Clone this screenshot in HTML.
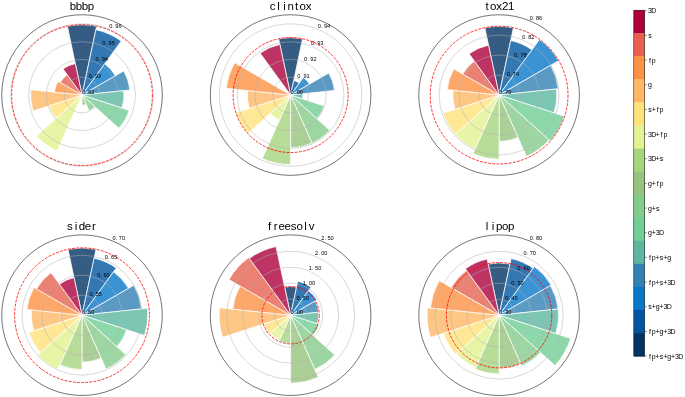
<!DOCTYPE html>
<html><head><meta charset="utf-8"><title>polar bars</title>
<style>html,body{margin:0;padding:0;background:#fff;}svg{display:block;}</style>
</head><body>
<svg width="685" height="397" viewBox="0 0 685 397">
<rect width="685" height="397" fill="#fff"/>
<g>
<path d="M82.00,95.05 L67.38,26.29 A70.3,70.3 0 0 1 96.62,26.29 Z" fill="#033464" fill-opacity="0.8" stroke="#fff" stroke-opacity="0.85" stroke-width="0.9" stroke-linejoin="miter"/>
<path d="M82.00,95.05 L95.89,29.71 A66.8,66.8 0 0 1 121.26,41.01 Z" fill="#0055a0" fill-opacity="0.8" stroke="#fff" stroke-opacity="0.85" stroke-width="0.9" stroke-linejoin="miter"/>
<path d="M82.00,95.05 L104.69,63.82 A38.6,38.6 0 0 1 115.43,75.75 Z" fill="#0a78c8" fill-opacity="0.8" stroke="#fff" stroke-opacity="0.85" stroke-width="0.9" stroke-linejoin="miter"/>
<path d="M82.00,95.05 L123.74,70.95 A48.2,48.2 0 0 1 129.94,90.01 Z" fill="#3282b4" fill-opacity="0.8" stroke="#fff" stroke-opacity="0.85" stroke-width="0.9" stroke-linejoin="miter"/>
<path d="M82.00,95.05 L123.77,90.66 A42,42 0 0 1 121.94,108.03 Z" fill="#5cb6a0" fill-opacity="0.8" stroke="#fff" stroke-opacity="0.85" stroke-width="0.9" stroke-linejoin="miter"/>
<path d="M82.00,95.05 L129.27,110.41 A49.7,49.7 0 0 1 118.93,128.31 Z" fill="#70cd96" fill-opacity="0.8" stroke="#fff" stroke-opacity="0.85" stroke-width="0.9" stroke-linejoin="miter"/>
<path d="M82.00,95.05 L94.86,106.63 A17.3,17.3 0 0 1 89.04,110.85 Z" fill="#84cc8c" fill-opacity="0.8" stroke="#fff" stroke-opacity="0.85" stroke-width="0.9" stroke-linejoin="miter"/>
<path d="M82.00,95.05 L86.19,104.46 A10.3,10.3 0 0 1 82.00,105.35 Z" fill="#96c37d" fill-opacity="0.8" stroke="#fff" stroke-opacity="0.85" stroke-width="0.9" stroke-linejoin="miter"/>
<path d="M82.00,95.05 L57.07,151.05 A61.3,61.3 0 0 1 36.45,136.07 Z" fill="#e2f391" fill-opacity="0.8" stroke="#fff" stroke-opacity="0.85" stroke-width="0.9" stroke-linejoin="miter"/>
<path d="M82.00,95.05 L56.14,118.34 A34.8,34.8 0 0 1 48.90,105.80 Z" fill="#fee27c" fill-opacity="0.8" stroke="#fff" stroke-opacity="0.85" stroke-width="0.9" stroke-linejoin="miter"/>
<path d="M82.00,95.05 L33.12,110.93 A51.4,51.4 0 0 1 30.88,89.68 Z" fill="#feb866" fill-opacity="0.8" stroke="#fff" stroke-opacity="0.85" stroke-width="0.9" stroke-linejoin="miter"/>
<path d="M82.00,95.05 L54.45,92.15 A27.7,27.7 0 0 1 58.01,81.20 Z" fill="#fd9144" fill-opacity="0.8" stroke="#fff" stroke-opacity="0.85" stroke-width="0.9" stroke-linejoin="miter"/>
<path d="M82.00,95.05 L60.18,82.45 A25.2,25.2 0 0 1 67.19,74.66 Z" fill="#e66150" fill-opacity="0.8" stroke="#fff" stroke-opacity="0.85" stroke-width="0.9" stroke-linejoin="miter"/>
<path d="M82.00,95.05 L63.07,69.00 A32.2,32.2 0 0 1 75.31,63.55 Z" fill="#ac003c" fill-opacity="0.8" stroke="#fff" stroke-opacity="0.85" stroke-width="0.9" stroke-linejoin="miter"/>
<circle cx="82.0" cy="95.05" r="17.8" fill="none" stroke="#b0b0b0" stroke-width="0.5"/>
<circle cx="82.0" cy="95.05" r="35.6" fill="none" stroke="#b0b0b0" stroke-width="0.5"/>
<circle cx="82.0" cy="95.05" r="53.4" fill="none" stroke="#b0b0b0" stroke-width="0.5"/>
<circle cx="82.0" cy="95.05" r="71.2" fill="none" stroke="#b0b0b0" stroke-width="0.5"/>
<circle cx="82.0" cy="95.05" r="70.4" fill="none" stroke="#ff0000" stroke-width="0.8" stroke-dasharray="2.9 1.25"/>
<circle cx="82.0" cy="95.05" r="80.3" fill="none" stroke="#000" stroke-width="0.55"/>
<text x="83.45 85.87 89.65 92.75" y="94.25" text-anchor="middle" font-family="&quot;Liberation Sans&quot;, Arial, sans-serif" font-size="5.6" fill="#000">0.92</text>
<text x="90.26 92.68 96.46 99.56" y="77.80" text-anchor="middle" font-family="&quot;Liberation Sans&quot;, Arial, sans-serif" font-size="5.6" fill="#000">0.93</text>
<text x="97.07 99.49 103.27 106.37" y="61.36" text-anchor="middle" font-family="&quot;Liberation Sans&quot;, Arial, sans-serif" font-size="5.6" fill="#000">0.94</text>
<text x="103.89 106.30 110.09 113.19" y="44.91" text-anchor="middle" font-family="&quot;Liberation Sans&quot;, Arial, sans-serif" font-size="5.6" fill="#000">0.95</text>
<text x="110.70 113.12 116.90 120.00" y="28.47" text-anchor="middle" font-family="&quot;Liberation Sans&quot;, Arial, sans-serif" font-size="5.6" fill="#000">0.96</text>
<text x="65.18 70.54 75.89 81.25" y="9.75" text-anchor="middle" font-family="&quot;Liberation Sans&quot;, Arial, sans-serif" font-size="10.3" fill="#000" transform="scale(1.12,1)">bbbp</text>
</g>
<g>
<path d="M290.60,95.05 L278.65,38.81 A57.5,57.5 0 0 1 302.55,38.81 Z" fill="#033464" fill-opacity="0.8" stroke="#fff" stroke-opacity="0.85" stroke-width="0.9" stroke-linejoin="miter"/>
<path d="M290.60,95.05 L293.68,80.57 A14.8,14.8 0 0 1 299.30,83.08 Z" fill="#0055a0" fill-opacity="0.8" stroke="#fff" stroke-opacity="0.85" stroke-width="0.9" stroke-linejoin="miter"/>
<path d="M290.60,95.05 L303.41,77.41 A21.8,21.8 0 0 1 309.48,84.15 Z" fill="#0a78c8" fill-opacity="0.8" stroke="#fff" stroke-opacity="0.85" stroke-width="0.9" stroke-linejoin="miter"/>
<path d="M290.60,95.05 L328.79,73.00 A44.1,44.1 0 0 1 334.46,90.44 Z" fill="#3282b4" fill-opacity="0.8" stroke="#fff" stroke-opacity="0.85" stroke-width="0.9" stroke-linejoin="miter"/>
<path d="M290.60,95.05 L302.83,93.76 A12.3,12.3 0 0 1 302.30,98.85 Z" fill="#5cb6a0" fill-opacity="0.8" stroke="#fff" stroke-opacity="0.85" stroke-width="0.9" stroke-linejoin="miter"/>
<path d="M290.60,95.05 L324.27,105.99 A35.4,35.4 0 0 1 316.91,118.74 Z" fill="#70cd96" fill-opacity="0.8" stroke="#fff" stroke-opacity="0.85" stroke-width="0.9" stroke-linejoin="miter"/>
<path d="M290.60,95.05 L329.84,130.38 A52.8,52.8 0 0 1 312.08,143.29 Z" fill="#84cc8c" fill-opacity="0.8" stroke="#fff" stroke-opacity="0.85" stroke-width="0.9" stroke-linejoin="miter"/>
<path d="M290.60,95.05 L312.04,143.19 A52.7,52.7 0 0 1 290.60,147.75 Z" fill="#96c37d" fill-opacity="0.8" stroke="#fff" stroke-opacity="0.85" stroke-width="0.9" stroke-linejoin="miter"/>
<path d="M290.60,95.05 L290.60,164.65 A69.6,69.6 0 0 1 262.29,158.63 Z" fill="#a6d57e" fill-opacity="0.8" stroke="#fff" stroke-opacity="0.85" stroke-width="0.9" stroke-linejoin="miter"/>
<path d="M290.60,95.05 L279.41,120.17 A27.5,27.5 0 0 1 270.16,113.45 Z" fill="#e2f391" fill-opacity="0.8" stroke="#fff" stroke-opacity="0.85" stroke-width="0.9" stroke-linejoin="miter"/>
<path d="M290.60,95.05 L247.87,133.53 A57.5,57.5 0 0 1 235.91,112.82 Z" fill="#fee27c" fill-opacity="0.8" stroke="#fff" stroke-opacity="0.85" stroke-width="0.9" stroke-linejoin="miter"/>
<path d="M290.60,95.05 L249.42,108.43 A43.3,43.3 0 0 1 247.54,90.52 Z" fill="#feb866" fill-opacity="0.8" stroke="#fff" stroke-opacity="0.85" stroke-width="0.9" stroke-linejoin="miter"/>
<path d="M290.60,95.05 L226.25,88.29 A64.7,64.7 0 0 1 234.57,62.70 Z" fill="#fd9144" fill-opacity="0.8" stroke="#fff" stroke-opacity="0.85" stroke-width="0.9" stroke-linejoin="miter"/>
<path d="M290.60,95.05 L260.15,53.14 A51.8,51.8 0 0 1 279.83,44.38 Z" fill="#ac003c" fill-opacity="0.8" stroke="#fff" stroke-opacity="0.85" stroke-width="0.9" stroke-linejoin="miter"/>
<circle cx="290.6" cy="95.05" r="17.8" fill="none" stroke="#b0b0b0" stroke-width="0.5"/>
<circle cx="290.6" cy="95.05" r="35.6" fill="none" stroke="#b0b0b0" stroke-width="0.5"/>
<circle cx="290.6" cy="95.05" r="53.4" fill="none" stroke="#b0b0b0" stroke-width="0.5"/>
<circle cx="290.6" cy="95.05" r="71.2" fill="none" stroke="#b0b0b0" stroke-width="0.5"/>
<circle cx="290.6" cy="95.05" r="57.5" fill="none" stroke="#ff0000" stroke-width="0.8" stroke-dasharray="2.9 1.25"/>
<circle cx="290.6" cy="95.05" r="80.3" fill="none" stroke="#000" stroke-width="0.55"/>
<text x="292.05 294.47 298.25 301.35" y="94.25" text-anchor="middle" font-family="&quot;Liberation Sans&quot;, Arial, sans-serif" font-size="5.6" fill="#000">0.90</text>
<text x="298.86 301.28 305.06 308.16" y="77.80" text-anchor="middle" font-family="&quot;Liberation Sans&quot;, Arial, sans-serif" font-size="5.6" fill="#000">0.91</text>
<text x="305.67 308.09 311.87 314.97" y="61.36" text-anchor="middle" font-family="&quot;Liberation Sans&quot;, Arial, sans-serif" font-size="5.6" fill="#000">0.92</text>
<text x="312.49 314.90 318.69 321.79" y="44.91" text-anchor="middle" font-family="&quot;Liberation Sans&quot;, Arial, sans-serif" font-size="5.6" fill="#000">0.93</text>
<text x="319.30 321.72 325.50 328.60" y="28.47" text-anchor="middle" font-family="&quot;Liberation Sans&quot;, Arial, sans-serif" font-size="5.6" fill="#000">0.94</text>
<text x="243.39 248.75 254.11 259.46 264.82 270.18 275.54" y="9.75" text-anchor="middle" font-family="&quot;Liberation Sans&quot;, Arial, sans-serif" font-size="10.3" fill="#000" transform="scale(1.12,1)">clintox</text>
</g>
<g>
<path d="M499.10,95.05 L484.82,27.85 A68.7,68.7 0 0 1 513.38,27.85 Z" fill="#033464" fill-opacity="0.8" stroke="#fff" stroke-opacity="0.85" stroke-width="0.9" stroke-linejoin="miter"/>
<path d="M499.10,95.05 L510.70,40.47 A55.8,55.8 0 0 1 531.90,49.91 Z" fill="#0055a0" fill-opacity="0.8" stroke="#fff" stroke-opacity="0.85" stroke-width="0.9" stroke-linejoin="miter"/>
<path d="M499.10,95.05 L539.48,39.47 A68.7,68.7 0 0 1 558.60,60.70 Z" fill="#0a78c8" fill-opacity="0.8" stroke="#fff" stroke-opacity="0.85" stroke-width="0.9" stroke-linejoin="miter"/>
<path d="M499.10,95.05 L550.63,65.30 A59.5,59.5 0 0 1 558.27,88.83 Z" fill="#3282b4" fill-opacity="0.8" stroke="#fff" stroke-opacity="0.85" stroke-width="0.9" stroke-linejoin="miter"/>
<path d="M499.10,95.05 L556.58,89.01 A57.8,57.8 0 0 1 554.07,112.91 Z" fill="#5cb6a0" fill-opacity="0.8" stroke="#fff" stroke-opacity="0.85" stroke-width="0.9" stroke-linejoin="miter"/>
<path d="M499.10,95.05 L564.53,116.31 A68.8,68.8 0 0 1 550.23,141.09 Z" fill="#70cd96" fill-opacity="0.8" stroke="#fff" stroke-opacity="0.85" stroke-width="0.9" stroke-linejoin="miter"/>
<path d="M499.10,95.05 L549.04,140.02 A67.2,67.2 0 0 1 526.43,156.44 Z" fill="#84cc8c" fill-opacity="0.8" stroke="#fff" stroke-opacity="0.85" stroke-width="0.9" stroke-linejoin="miter"/>
<path d="M499.10,95.05 L518.01,137.53 A46.5,46.5 0 0 1 499.10,141.55 Z" fill="#96c37d" fill-opacity="0.8" stroke="#fff" stroke-opacity="0.85" stroke-width="0.9" stroke-linejoin="miter"/>
<path d="M499.10,95.05 L499.10,159.25 A64.2,64.2 0 0 1 472.99,153.70 Z" fill="#a6d57e" fill-opacity="0.8" stroke="#fff" stroke-opacity="0.85" stroke-width="0.9" stroke-linejoin="miter"/>
<path d="M499.10,95.05 L474.98,149.22 A59.3,59.3 0 0 1 455.03,134.73 Z" fill="#e2f391" fill-opacity="0.8" stroke="#fff" stroke-opacity="0.85" stroke-width="0.9" stroke-linejoin="miter"/>
<path d="M499.10,95.05 L455.40,134.39 A58.8,58.8 0 0 1 443.18,113.22 Z" fill="#fee27c" fill-opacity="0.8" stroke="#fff" stroke-opacity="0.85" stroke-width="0.9" stroke-linejoin="miter"/>
<path d="M499.10,95.05 L455.07,109.36 A46.3,46.3 0 0 1 453.05,90.21 Z" fill="#feb866" fill-opacity="0.8" stroke="#fff" stroke-opacity="0.85" stroke-width="0.9" stroke-linejoin="miter"/>
<path d="M499.10,95.05 L447.19,89.59 A52.2,52.2 0 0 1 453.89,68.95 Z" fill="#fd9144" fill-opacity="0.8" stroke="#fff" stroke-opacity="0.85" stroke-width="0.9" stroke-linejoin="miter"/>
<path d="M499.10,95.05 L462.73,74.05 A42,42 0 0 1 474.41,61.07 Z" fill="#e66150" fill-opacity="0.8" stroke="#fff" stroke-opacity="0.85" stroke-width="0.9" stroke-linejoin="miter"/>
<path d="M499.10,95.05 L469.12,53.79 A51,51 0 0 1 488.50,45.16 Z" fill="#ac003c" fill-opacity="0.8" stroke="#fff" stroke-opacity="0.85" stroke-width="0.9" stroke-linejoin="miter"/>
<circle cx="499.1" cy="95.05" r="20" fill="none" stroke="#b0b0b0" stroke-width="0.5"/>
<circle cx="499.1" cy="95.05" r="40" fill="none" stroke="#b0b0b0" stroke-width="0.5"/>
<circle cx="499.1" cy="95.05" r="60" fill="none" stroke="#b0b0b0" stroke-width="0.5"/>
<circle cx="499.1" cy="95.05" r="68.9" fill="none" stroke="#ff0000" stroke-width="0.8" stroke-dasharray="2.9 1.25"/>
<circle cx="499.1" cy="95.05" r="80.3" fill="none" stroke="#000" stroke-width="0.55"/>
<text x="500.55 502.97 506.75 509.85" y="94.25" text-anchor="middle" font-family="&quot;Liberation Sans&quot;, Arial, sans-serif" font-size="5.6" fill="#000">0.70</text>
<text x="508.20 510.62 514.40 517.50" y="75.77" text-anchor="middle" font-family="&quot;Liberation Sans&quot;, Arial, sans-serif" font-size="5.6" fill="#000">0.74</text>
<text x="515.86 518.28 522.06 525.16" y="57.29" text-anchor="middle" font-family="&quot;Liberation Sans&quot;, Arial, sans-serif" font-size="5.6" fill="#000">0.78</text>
<text x="523.51 525.93 529.71 532.81" y="38.82" text-anchor="middle" font-family="&quot;Liberation Sans&quot;, Arial, sans-serif" font-size="5.6" fill="#000">0.82</text>
<text x="531.28 533.70 537.48 540.58" y="20.06" text-anchor="middle" font-family="&quot;Liberation Sans&quot;, Arial, sans-serif" font-size="5.6" fill="#000">0.86</text>
<text x="434.91 440.27 445.62 450.98 456.34" y="9.75" text-anchor="middle" font-family="&quot;Liberation Sans&quot;, Arial, sans-serif" font-size="10.3" fill="#000" transform="scale(1.12,1)">tox21</text>
</g>
<g>
<path d="M82.00,315.20 L68.01,249.37 A67.3,67.3 0 0 1 95.99,249.37 Z" fill="#033464" fill-opacity="0.8" stroke="#fff" stroke-opacity="0.85" stroke-width="0.9" stroke-linejoin="miter"/>
<path d="M82.00,315.20 L94.12,258.17 A58.3,58.3 0 0 1 116.27,268.03 Z" fill="#0055a0" fill-opacity="0.8" stroke="#fff" stroke-opacity="0.85" stroke-width="0.9" stroke-linejoin="miter"/>
<path d="M82.00,315.20 L113.56,271.76 A53.7,53.7 0 0 1 128.51,288.35 Z" fill="#0a78c8" fill-opacity="0.8" stroke="#fff" stroke-opacity="0.85" stroke-width="0.9" stroke-linejoin="miter"/>
<path d="M82.00,315.20 L133.87,285.25 A59.9,59.9 0 0 1 141.57,308.94 Z" fill="#3282b4" fill-opacity="0.8" stroke="#fff" stroke-opacity="0.85" stroke-width="0.9" stroke-linejoin="miter"/>
<path d="M82.00,315.20 L147.44,308.32 A65.8,65.8 0 0 1 144.58,335.53 Z" fill="#5cb6a0" fill-opacity="0.8" stroke="#fff" stroke-opacity="0.85" stroke-width="0.9" stroke-linejoin="miter"/>
<path d="M82.00,315.20 L126.70,329.72 A47.0,47.0 0 0 1 116.93,346.65 Z" fill="#70cd96" fill-opacity="0.8" stroke="#fff" stroke-opacity="0.85" stroke-width="0.9" stroke-linejoin="miter"/>
<path d="M82.00,315.20 L125.85,354.68 A59.0,59.0 0 0 1 106.00,369.10 Z" fill="#84cc8c" fill-opacity="0.8" stroke="#fff" stroke-opacity="0.85" stroke-width="0.9" stroke-linejoin="miter"/>
<path d="M82.00,315.20 L101.12,358.14 A47,47 0 0 1 82.00,362.20 Z" fill="#96c37d" fill-opacity="0.8" stroke="#fff" stroke-opacity="0.85" stroke-width="0.9" stroke-linejoin="miter"/>
<path d="M82.00,315.20 L82.00,369.60 A54.4,54.4 0 0 1 59.87,364.90 Z" fill="#a6d57e" fill-opacity="0.8" stroke="#fff" stroke-opacity="0.85" stroke-width="0.9" stroke-linejoin="miter"/>
<path d="M82.00,315.20 L57.80,369.56 A59.5,59.5 0 0 1 37.78,355.01 Z" fill="#e2f391" fill-opacity="0.8" stroke="#fff" stroke-opacity="0.85" stroke-width="0.9" stroke-linejoin="miter"/>
<path d="M82.00,315.20 L40.46,352.60 A55.9,55.9 0 0 1 28.84,332.47 Z" fill="#fee27c" fill-opacity="0.8" stroke="#fff" stroke-opacity="0.85" stroke-width="0.9" stroke-linejoin="miter"/>
<path d="M82.00,315.20 L33.78,330.87 A50.7,50.7 0 0 1 31.58,309.90 Z" fill="#feb866" fill-opacity="0.8" stroke="#fff" stroke-opacity="0.85" stroke-width="0.9" stroke-linejoin="miter"/>
<path d="M82.00,315.20 L26.90,309.41 A55.4,55.4 0 0 1 34.02,287.50 Z" fill="#fd9144" fill-opacity="0.8" stroke="#fff" stroke-opacity="0.85" stroke-width="0.9" stroke-linejoin="miter"/>
<path d="M82.00,315.20 L36.45,288.90 A52.6,52.6 0 0 1 51.08,272.65 Z" fill="#e66150" fill-opacity="0.8" stroke="#fff" stroke-opacity="0.85" stroke-width="0.9" stroke-linejoin="miter"/>
<path d="M82.00,315.20 L59.43,284.13 A38.4,38.4 0 0 1 74.02,277.64 Z" fill="#ac003c" fill-opacity="0.8" stroke="#fff" stroke-opacity="0.85" stroke-width="0.9" stroke-linejoin="miter"/>
<circle cx="82.0" cy="315.2" r="20" fill="none" stroke="#b0b0b0" stroke-width="0.5"/>
<circle cx="82.0" cy="315.2" r="40" fill="none" stroke="#b0b0b0" stroke-width="0.5"/>
<circle cx="82.0" cy="315.2" r="60" fill="none" stroke="#b0b0b0" stroke-width="0.5"/>
<circle cx="82.0" cy="315.2" r="67.4" fill="none" stroke="#ff0000" stroke-width="0.8" stroke-dasharray="2.9 1.25"/>
<circle cx="82.0" cy="315.2" r="80.3" fill="none" stroke="#000" stroke-width="0.55"/>
<text x="83.45 85.87 89.65 92.75" y="314.40" text-anchor="middle" font-family="&quot;Liberation Sans&quot;, Arial, sans-serif" font-size="5.6" fill="#000">0.50</text>
<text x="91.10 93.52 97.30 100.40" y="295.92" text-anchor="middle" font-family="&quot;Liberation Sans&quot;, Arial, sans-serif" font-size="5.6" fill="#000">0.55</text>
<text x="98.76 101.18 104.96 108.06" y="277.44" text-anchor="middle" font-family="&quot;Liberation Sans&quot;, Arial, sans-serif" font-size="5.6" fill="#000">0.60</text>
<text x="106.41 108.83 112.61 115.71" y="258.97" text-anchor="middle" font-family="&quot;Liberation Sans&quot;, Arial, sans-serif" font-size="5.6" fill="#000">0.65</text>
<text x="114.18 116.60 120.38 123.48" y="240.21" text-anchor="middle" font-family="&quot;Liberation Sans&quot;, Arial, sans-serif" font-size="5.6" fill="#000">0.70</text>
<text x="62.50 67.86 73.21 78.57 83.93" y="229.60" text-anchor="middle" font-family="&quot;Liberation Sans&quot;, Arial, sans-serif" font-size="10.3" fill="#000" transform="scale(1.12,1)">sider</text>
</g>
<g>
<path d="M290.60,315.20 L284.63,287.13 A28.7,28.7 0 0 1 296.57,287.13 Z" fill="#033464" fill-opacity="0.8" stroke="#fff" stroke-opacity="0.85" stroke-width="0.9" stroke-linejoin="miter"/>
<path d="M290.60,315.20 L297.84,281.16 A34.8,34.8 0 0 1 311.05,287.05 Z" fill="#0055a0" fill-opacity="0.8" stroke="#fff" stroke-opacity="0.85" stroke-width="0.9" stroke-linejoin="miter"/>
<path d="M290.60,315.20 L308.47,290.61 A30.4,30.4 0 0 1 316.93,300.00 Z" fill="#0a78c8" fill-opacity="0.8" stroke="#fff" stroke-opacity="0.85" stroke-width="0.9" stroke-linejoin="miter"/>
<path d="M290.60,315.20 L315.20,301.00 A28.4,28.4 0 0 1 318.84,312.23 Z" fill="#3282b4" fill-opacity="0.8" stroke="#fff" stroke-opacity="0.85" stroke-width="0.9" stroke-linejoin="miter"/>
<path d="M290.60,315.20 L318.45,312.27 A28,28 0 0 1 317.23,323.85 Z" fill="#5cb6a0" fill-opacity="0.8" stroke="#fff" stroke-opacity="0.85" stroke-width="0.9" stroke-linejoin="miter"/>
<path d="M290.60,315.20 L319.32,324.53 A30.2,30.2 0 0 1 313.04,335.41 Z" fill="#70cd96" fill-opacity="0.8" stroke="#fff" stroke-opacity="0.85" stroke-width="0.9" stroke-linejoin="miter"/>
<path d="M290.60,315.20 L334.67,354.88 A59.3,59.3 0 0 1 314.72,369.37 Z" fill="#84cc8c" fill-opacity="0.8" stroke="#fff" stroke-opacity="0.85" stroke-width="0.9" stroke-linejoin="miter"/>
<path d="M290.60,315.20 L318.26,377.32 A68,68 0 0 1 290.60,383.20 Z" fill="#96c37d" fill-opacity="0.8" stroke="#fff" stroke-opacity="0.85" stroke-width="0.9" stroke-linejoin="miter"/>
<path d="M290.60,315.20 L290.60,343.70 A28.5,28.5 0 0 1 279.01,341.24 Z" fill="#a6d57e" fill-opacity="0.8" stroke="#fff" stroke-opacity="0.85" stroke-width="0.9" stroke-linejoin="miter"/>
<path d="M290.60,315.20 L279.54,340.05 A27.2,27.2 0 0 1 270.39,333.40 Z" fill="#e2f391" fill-opacity="0.8" stroke="#fff" stroke-opacity="0.85" stroke-width="0.9" stroke-linejoin="miter"/>
<path d="M290.60,315.20 L269.64,334.07 A28.2,28.2 0 0 1 263.78,323.91 Z" fill="#fee27c" fill-opacity="0.8" stroke="#fff" stroke-opacity="0.85" stroke-width="0.9" stroke-linejoin="miter"/>
<path d="M290.60,315.20 L222.60,337.29 A71.5,71.5 0 0 1 219.49,307.73 Z" fill="#feb866" fill-opacity="0.8" stroke="#fff" stroke-opacity="0.85" stroke-width="0.9" stroke-linejoin="miter"/>
<path d="M290.60,315.20 L232.72,309.12 A58.2,58.2 0 0 1 240.20,286.10 Z" fill="#fd9144" fill-opacity="0.8" stroke="#fff" stroke-opacity="0.85" stroke-width="0.9" stroke-linejoin="miter"/>
<path d="M290.60,315.20 L228.94,279.60 A71.2,71.2 0 0 1 248.75,257.60 Z" fill="#e66150" fill-opacity="0.8" stroke="#fff" stroke-opacity="0.85" stroke-width="0.9" stroke-linejoin="miter"/>
<path d="M290.60,315.20 L249.34,258.41 A70.2,70.2 0 0 1 276.00,246.53 Z" fill="#ac003c" fill-opacity="0.8" stroke="#fff" stroke-opacity="0.85" stroke-width="0.9" stroke-linejoin="miter"/>
<circle cx="290.6" cy="315.2" r="16" fill="none" stroke="#b0b0b0" stroke-width="0.5"/>
<circle cx="290.6" cy="315.2" r="32" fill="none" stroke="#b0b0b0" stroke-width="0.5"/>
<circle cx="290.6" cy="315.2" r="48" fill="none" stroke="#b0b0b0" stroke-width="0.5"/>
<circle cx="290.6" cy="315.2" r="64" fill="none" stroke="#b0b0b0" stroke-width="0.5"/>
<circle cx="290.6" cy="315.2" r="28.7" fill="none" stroke="#ff0000" stroke-width="0.8" stroke-dasharray="2.9 1.25"/>
<circle cx="290.6" cy="315.2" r="80.3" fill="none" stroke="#000" stroke-width="0.55"/>
<text x="292.05 294.47 298.25 301.35" y="314.40" text-anchor="middle" font-family="&quot;Liberation Sans&quot;, Arial, sans-serif" font-size="5.6" fill="#000">0.00</text>
<text x="298.17 300.59 304.37 307.47" y="299.62" text-anchor="middle" font-family="&quot;Liberation Sans&quot;, Arial, sans-serif" font-size="5.6" fill="#000">0.50</text>
<text x="304.30 306.71 310.50 313.60" y="284.84" text-anchor="middle" font-family="&quot;Liberation Sans&quot;, Arial, sans-serif" font-size="5.6" fill="#000">1.00</text>
<text x="310.42 312.84 316.62 319.72" y="270.05" text-anchor="middle" font-family="&quot;Liberation Sans&quot;, Arial, sans-serif" font-size="5.6" fill="#000">1.50</text>
<text x="316.54 318.96 322.74 325.84" y="255.27" text-anchor="middle" font-family="&quot;Liberation Sans&quot;, Arial, sans-serif" font-size="5.6" fill="#000">2.00</text>
<text x="322.78 325.20 328.98 332.08" y="240.21" text-anchor="middle" font-family="&quot;Liberation Sans&quot;, Arial, sans-serif" font-size="5.6" fill="#000">2.50</text>
<text x="240.71 246.07 251.43 256.79 262.14 267.50 272.86 278.21" y="229.60" text-anchor="middle" font-family="&quot;Liberation Sans&quot;, Arial, sans-serif" font-size="10.3" fill="#000" transform="scale(1.12,1)">freesolv</text>
</g>
<g>
<path d="M499.10,315.20 L488.23,264.04 A52.3,52.3 0 0 1 509.97,264.04 Z" fill="#033464" fill-opacity="0.8" stroke="#fff" stroke-opacity="0.85" stroke-width="0.9" stroke-linejoin="miter"/>
<path d="M499.10,315.20 L511.14,258.57 A57.9,57.9 0 0 1 533.13,268.36 Z" fill="#0055a0" fill-opacity="0.8" stroke="#fff" stroke-opacity="0.85" stroke-width="0.9" stroke-linejoin="miter"/>
<path d="M499.10,315.20 L534.43,266.58 A60.1,60.1 0 0 1 551.15,285.15 Z" fill="#0a78c8" fill-opacity="0.8" stroke="#fff" stroke-opacity="0.85" stroke-width="0.9" stroke-linejoin="miter"/>
<path d="M499.10,315.20 L550.46,285.55 A59.3,59.3 0 0 1 558.08,309.00 Z" fill="#3282b4" fill-opacity="0.8" stroke="#fff" stroke-opacity="0.85" stroke-width="0.9" stroke-linejoin="miter"/>
<path d="M499.10,315.20 L558.37,308.97 A59.6,59.6 0 0 1 555.78,333.62 Z" fill="#5cb6a0" fill-opacity="0.8" stroke="#fff" stroke-opacity="0.85" stroke-width="0.9" stroke-linejoin="miter"/>
<path d="M499.10,315.20 L570.71,338.47 A75.3,75.3 0 0 1 555.06,365.59 Z" fill="#70cd96" fill-opacity="0.8" stroke="#fff" stroke-opacity="0.85" stroke-width="0.9" stroke-linejoin="miter"/>
<path d="M499.10,315.20 L540.57,352.54 A55.8,55.8 0 0 1 521.80,366.18 Z" fill="#84cc8c" fill-opacity="0.8" stroke="#fff" stroke-opacity="0.85" stroke-width="0.9" stroke-linejoin="miter"/>
<path d="M499.10,315.20 L520.78,363.89 A53.3,53.3 0 0 1 499.10,368.50 Z" fill="#96c37d" fill-opacity="0.8" stroke="#fff" stroke-opacity="0.85" stroke-width="0.9" stroke-linejoin="miter"/>
<path d="M499.10,315.20 L499.10,374.10 A58.9,58.9 0 0 1 475.14,369.01 Z" fill="#a6d57e" fill-opacity="0.8" stroke="#fff" stroke-opacity="0.85" stroke-width="0.9" stroke-linejoin="miter"/>
<path d="M499.10,315.20 L475.71,367.73 A57.5,57.5 0 0 1 456.37,353.68 Z" fill="#e2f391" fill-opacity="0.8" stroke="#fff" stroke-opacity="0.85" stroke-width="0.9" stroke-linejoin="miter"/>
<path d="M499.10,315.20 L455.63,354.34 A58.5,58.5 0 0 1 443.46,333.28 Z" fill="#fee27c" fill-opacity="0.8" stroke="#fff" stroke-opacity="0.85" stroke-width="0.9" stroke-linejoin="miter"/>
<path d="M499.10,315.20 L430.53,337.48 A72.1,72.1 0 0 1 427.39,307.66 Z" fill="#feb866" fill-opacity="0.8" stroke="#fff" stroke-opacity="0.85" stroke-width="0.9" stroke-linejoin="miter"/>
<path d="M499.10,315.20 L430.38,307.98 A69.1,69.1 0 0 1 439.26,280.65 Z" fill="#fd9144" fill-opacity="0.8" stroke="#fff" stroke-opacity="0.85" stroke-width="0.9" stroke-linejoin="miter"/>
<path d="M499.10,315.20 L451.12,287.50 A55.4,55.4 0 0 1 466.54,270.38 Z" fill="#e66150" fill-opacity="0.8" stroke="#fff" stroke-opacity="0.85" stroke-width="0.9" stroke-linejoin="miter"/>
<path d="M499.10,315.20 L465.36,268.76 A57.4,57.4 0 0 1 487.17,259.05 Z" fill="#ac003c" fill-opacity="0.8" stroke="#fff" stroke-opacity="0.85" stroke-width="0.9" stroke-linejoin="miter"/>
<circle cx="499.1" cy="315.2" r="16" fill="none" stroke="#b0b0b0" stroke-width="0.5"/>
<circle cx="499.1" cy="315.2" r="32" fill="none" stroke="#b0b0b0" stroke-width="0.5"/>
<circle cx="499.1" cy="315.2" r="48" fill="none" stroke="#b0b0b0" stroke-width="0.5"/>
<circle cx="499.1" cy="315.2" r="64" fill="none" stroke="#b0b0b0" stroke-width="0.5"/>
<circle cx="499.1" cy="315.2" r="52.7" fill="none" stroke="#ff0000" stroke-width="0.8" stroke-dasharray="2.9 1.25"/>
<circle cx="499.1" cy="315.2" r="80.3" fill="none" stroke="#000" stroke-width="0.55"/>
<text x="500.55 502.97 506.75 509.85" y="314.40" text-anchor="middle" font-family="&quot;Liberation Sans&quot;, Arial, sans-serif" font-size="5.6" fill="#000">0.30</text>
<text x="506.67 509.09 512.87 515.97" y="299.62" text-anchor="middle" font-family="&quot;Liberation Sans&quot;, Arial, sans-serif" font-size="5.6" fill="#000">0.40</text>
<text x="512.80 515.21 519.00 522.10" y="284.84" text-anchor="middle" font-family="&quot;Liberation Sans&quot;, Arial, sans-serif" font-size="5.6" fill="#000">0.50</text>
<text x="518.92 521.34 525.12 528.22" y="270.05" text-anchor="middle" font-family="&quot;Liberation Sans&quot;, Arial, sans-serif" font-size="5.6" fill="#000">0.60</text>
<text x="525.04 527.46 531.24 534.34" y="255.27" text-anchor="middle" font-family="&quot;Liberation Sans&quot;, Arial, sans-serif" font-size="5.6" fill="#000">0.70</text>
<text x="531.28 533.70 537.48 540.58" y="240.21" text-anchor="middle" font-family="&quot;Liberation Sans&quot;, Arial, sans-serif" font-size="5.6" fill="#000">0.80</text>
<text x="434.91 440.27 445.62 450.98 456.34" y="229.60" text-anchor="middle" font-family="&quot;Liberation Sans&quot;, Arial, sans-serif" font-size="10.3" fill="#000" transform="scale(1.12,1)">lipop</text>
</g>
<rect x="633.8" y="10.20" width="10.90" height="23.36" fill="#ac003c"/>
<rect x="633.8" y="33.26" width="10.90" height="23.36" fill="#e66150"/>
<rect x="633.8" y="56.32" width="10.90" height="23.36" fill="#fd9144"/>
<rect x="633.8" y="79.38" width="10.90" height="23.36" fill="#feb866"/>
<rect x="633.8" y="102.44" width="10.90" height="23.36" fill="#fee27c"/>
<rect x="633.8" y="125.50" width="10.90" height="23.36" fill="#e2f391"/>
<rect x="633.8" y="148.56" width="10.90" height="23.36" fill="#a6d57e"/>
<rect x="633.8" y="171.62" width="10.90" height="23.36" fill="#96c37d"/>
<rect x="633.8" y="194.68" width="10.90" height="23.36" fill="#84cc8c"/>
<rect x="633.8" y="217.74" width="10.90" height="23.36" fill="#70cd96"/>
<rect x="633.8" y="240.80" width="10.90" height="23.36" fill="#5cb6a0"/>
<rect x="633.8" y="263.86" width="10.90" height="23.36" fill="#3282b4"/>
<rect x="633.8" y="286.92" width="10.90" height="23.36" fill="#0a78c8"/>
<rect x="633.8" y="309.98" width="10.90" height="23.36" fill="#0055a0"/>
<rect x="633.8" y="333.04" width="10.90" height="23.36" fill="#033464"/>
<rect x="633.8" y="10.2" width="10.90" height="345.90" fill="none" stroke="#000" stroke-width="0.5"/>
<line x1="644.7" y1="10.70" x2="646.7" y2="10.70" stroke="#000" stroke-width="0.5"/>
<text x="649.93 653.80" y="13.40" text-anchor="middle" font-family="&quot;Liberation Sans&quot;, Arial, sans-serif" font-size="7.0" fill="#000">3D</text>
<line x1="644.7" y1="35.37" x2="646.7" y2="35.37" stroke="#000" stroke-width="0.5"/>
<text x="649.93" y="38.07" text-anchor="middle" font-family="&quot;Liberation Sans&quot;, Arial, sans-serif" font-size="7.0" fill="#000">s</text>
<line x1="644.7" y1="60.04" x2="646.7" y2="60.04" stroke="#000" stroke-width="0.5"/>
<text x="649.93 653.80" y="62.74" text-anchor="middle" font-family="&quot;Liberation Sans&quot;, Arial, sans-serif" font-size="7.0" fill="#000">fp</text>
<line x1="644.7" y1="84.71" x2="646.7" y2="84.71" stroke="#000" stroke-width="0.5"/>
<text x="649.93" y="87.41" text-anchor="middle" font-family="&quot;Liberation Sans&quot;, Arial, sans-serif" font-size="7.0" fill="#000">g</text>
<line x1="644.7" y1="109.38" x2="646.7" y2="109.38" stroke="#000" stroke-width="0.5"/>
<text x="649.93 653.80 657.67 661.54" y="112.08" text-anchor="middle" font-family="&quot;Liberation Sans&quot;, Arial, sans-serif" font-size="7.0" fill="#000">s+fp</text>
<line x1="644.7" y1="134.05" x2="646.7" y2="134.05" stroke="#000" stroke-width="0.5"/>
<text x="649.93 653.80 657.67 661.54 665.41" y="136.75" text-anchor="middle" font-family="&quot;Liberation Sans&quot;, Arial, sans-serif" font-size="7.0" fill="#000">3D+fp</text>
<line x1="644.7" y1="158.72" x2="646.7" y2="158.72" stroke="#000" stroke-width="0.5"/>
<text x="649.93 653.80 657.67 661.54" y="161.42" text-anchor="middle" font-family="&quot;Liberation Sans&quot;, Arial, sans-serif" font-size="7.0" fill="#000">3D+s</text>
<line x1="644.7" y1="183.39" x2="646.7" y2="183.39" stroke="#000" stroke-width="0.5"/>
<text x="649.93 653.80 657.67 661.54" y="186.09" text-anchor="middle" font-family="&quot;Liberation Sans&quot;, Arial, sans-serif" font-size="7.0" fill="#000">g+fp</text>
<line x1="644.7" y1="208.06" x2="646.7" y2="208.06" stroke="#000" stroke-width="0.5"/>
<text x="649.93 653.80 657.67" y="210.76" text-anchor="middle" font-family="&quot;Liberation Sans&quot;, Arial, sans-serif" font-size="7.0" fill="#000">g+s</text>
<line x1="644.7" y1="232.73" x2="646.7" y2="232.73" stroke="#000" stroke-width="0.5"/>
<text x="649.93 653.80 657.67 661.54" y="235.43" text-anchor="middle" font-family="&quot;Liberation Sans&quot;, Arial, sans-serif" font-size="7.0" fill="#000">g+3D</text>
<line x1="644.7" y1="257.40" x2="646.7" y2="257.40" stroke="#000" stroke-width="0.5"/>
<text x="649.93 653.80 657.67 661.54 665.41 669.28" y="260.10" text-anchor="middle" font-family="&quot;Liberation Sans&quot;, Arial, sans-serif" font-size="7.0" fill="#000">fp+s+g</text>
<line x1="644.7" y1="282.07" x2="646.7" y2="282.07" stroke="#000" stroke-width="0.5"/>
<text x="649.93 653.80 657.67 661.54 665.41 669.28 673.15" y="284.77" text-anchor="middle" font-family="&quot;Liberation Sans&quot;, Arial, sans-serif" font-size="7.0" fill="#000">fp+s+3D</text>
<line x1="644.7" y1="306.74" x2="646.7" y2="306.74" stroke="#000" stroke-width="0.5"/>
<text x="649.93 653.80 657.67 661.54 665.41 669.28" y="309.44" text-anchor="middle" font-family="&quot;Liberation Sans&quot;, Arial, sans-serif" font-size="7.0" fill="#000">s+g+3D</text>
<line x1="644.7" y1="331.41" x2="646.7" y2="331.41" stroke="#000" stroke-width="0.5"/>
<text x="649.93 653.80 657.67 661.54 665.41 669.28 673.15" y="334.11" text-anchor="middle" font-family="&quot;Liberation Sans&quot;, Arial, sans-serif" font-size="7.0" fill="#000">fp+g+3D</text>
<line x1="644.7" y1="356.08" x2="646.7" y2="356.08" stroke="#000" stroke-width="0.5"/>
<text x="649.93 653.80 657.67 661.54 665.41 669.28 673.15 677.02 680.89" y="358.78" text-anchor="middle" font-family="&quot;Liberation Sans&quot;, Arial, sans-serif" font-size="7.0" fill="#000">fp+s+g+3D</text>
</svg>
</body></html>
